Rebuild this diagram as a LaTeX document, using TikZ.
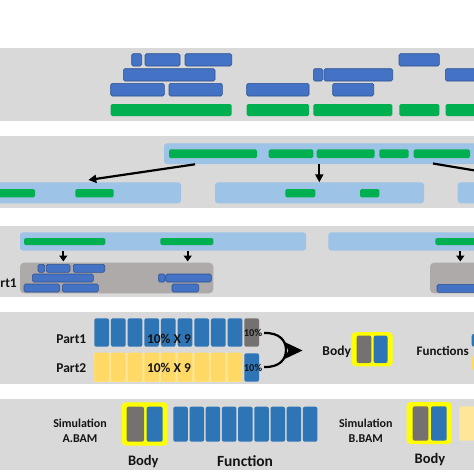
\documentclass[tikz,border=0pt]{standalone}
\usepackage{fontspec}
\setmainfont{Carlito}
\usetikzlibrary{arrows.meta}
\definecolor{panelgray}{HTML}{D9D9D9}
\definecolor{readblue}{HTML}{4472C4}
\definecolor{readborder}{HTML}{2F528F}
\definecolor{gbar}{HTML}{00B050}
\definecolor{lband}{HTML}{9DC3E6}
\definecolor{boxgray}{HTML}{AEAAAA}
\definecolor{sqblue}{HTML}{2E75B6}
\definecolor{sqgray}{HTML}{767171}
\definecolor{sqyellow}{HTML}{FFD966}
\definecolor{hiyellow}{HTML}{FFFF00}
\definecolor{paleyellow}{HTML}{FFE699}
\definecolor{txt}{HTML}{141414}
\newcommand\blk[4]{\draw[rd] (#1,#2) rectangle (#3,#4);}
\newcommand\gbr[4]{\fill[gn] (#1,#2) rectangle (#3,#4);}
\begin{document}
\begin{tikzpicture}[x=1pt,y=-1pt,
  panel/.style={fill=panelgray},
  rd/.style={fill=readblue,draw=readborder,line width=0.6pt,rounded corners=1.5pt},
  gn/.style={fill=gbar,rounded corners=1.5pt},
  band/.style={fill=lband,rounded corners=3pt},
  bigarrow/.style={line width=2.2pt,-{Triangle[length=8pt,width=8pt]}},
  smallarrow/.style={line width=2pt,-{Triangle[length=6pt,width=8pt]}},
  sq/.style={rounded corners=2pt},
  lbl/.style={font=\bfseries\fontsize{13.5}{15}\selectfont,text=txt,inner sep=0pt},
  pct/.style={font=\bfseries\fontsize{10.5}{12}\selectfont,text=txt,inner sep=0pt},
  sim/.style={font=\bfseries\fontsize{12}{15.5}\selectfont,text=txt,align=center,inner sep=0pt},
  hibox/.style={fill=hiyellow,rounded corners=4pt}]
\useasboundingbox (0,0) rectangle (474,474);
\clip (0,0) rectangle (474,474);
\fill[white] (0,0) rectangle (474,474);
% panels
\fill[panel] (0,48) rectangle (474,121);
\fill[panel] (0,136) rectangle (474,208);
\fill[panel] (0,226) rectangle (474,297);
\fill[panel] (0,312) rectangle (474,384);
\fill[panel] (0,399) rectangle (474,470);
% ---------- panel 1
\blk{131.7}{53.7}{141.7}{66}\blk{145}{53.7}{180}{66}\blk{185}{53.7}{231.7}{66}\blk{399}{53.7}{439.3}{66}
\blk{123.3}{68.7}{215}{81}\blk{313.3}{68.7}{322.7}{81}\blk{324}{68.7}{392.7}{81}\blk{445.3}{68.7}{480}{81}
\blk{110.7}{83.3}{164.3}{96}\blk{169}{83.3}{222.3}{96}\blk{246.7}{83.3}{309}{96}\blk{332.7}{83.3}{373.7}{96}
\gbr{110.7}{104}{231.7}{116}\gbr{246.7}{104}{309}{116}\gbr{313.3}{104}{392.3}{116}\gbr{399.3}{104}{439.3}{116}\gbr{445.7}{104}{480}{116}
% ---------- panel 2
\fill[band] (164,143.3) rectangle (480,164);
\gbr{169}{149.3}{257}{158}\gbr{268.7}{149.3}{313.3}{158}\gbr{316.7}{149.3}{374.7}{158}\gbr{379.3}{149.3}{408.7}{158}\gbr{413.7}{149.3}{470}{158}
\fill[band] (-6,182.3) rectangle (181,203.3);
\fill[band] (215,182.3) rectangle (424,203.3);
\fill[band] (457.7,182.3) rectangle (480,203.3);
\gbr{-6}{189}{35}{197.3}\gbr{75.3}{189}{113.7}{197.3}\gbr{285.3}{189}{315.3}{197.3}\gbr{360}{189}{379.3}{197.3}
\coordinate (a1s) at (195,164.3); \coordinate (a1e) at (88.3,180);
\coordinate (a2s) at (319.3,164.3); \coordinate (a2e) at (319.3,182.3);
\coordinate (a3s) at (433,163.5); \coordinate (a3e) at (490,173);
\draw[bigarrow] (a1s) -- (a1e);
\draw[bigarrow] (a2s) -- (a2e);
\draw[line width=2.2pt] (a3s) -- (a3e);
% ---------- panel 3
\fill[band] (20,232.3) rectangle (306,250.7);
\fill[band] (328.3,232.3) rectangle (480,250.7);
\gbr{24}{238}{105.3}{245}\gbr{160.3}{238}{213.3}{245}\gbr{435.3}{238}{480}{245}
\fill[boxgray,rounded corners=4pt] (20,262.7) rectangle (213.3,293.3);
\fill[boxgray,rounded corners=4pt] (430,262.7) rectangle (490,293.3);
\blk{38}{264.3}{44.7}{272.3}\blk{46.3}{264.3}{70}{272.3}\blk{73.3}{264.3}{104.7}{272.3}
\blk{32.3}{274}{93.3}{282}\blk{158.3}{274}{165}{282}\blk{165.7}{274}{211.3}{282}
\blk{24}{284}{59.7}{292}\blk{62.3}{284}{98.3}{292}\blk{172}{284}{198.7}{292}\blk{437}{284.3}{480}{292.3}
\foreach \x [count=\i] in {63.3,187.7,460.3}{
  \coordinate (d\i s) at (\x,251.3); \coordinate (d\i e) at (\x,261.5);
  \draw[smallarrow] (d\i s) -- (d\i e);}
\node[lbl,anchor=east] (p3part) at (17,283) {Part1};
% ---------- panel 4
\node[lbl,anchor=east] (p4a) at (86.5,339.3) {Part1};
\node[lbl,anchor=east] (p4b) at (86.5,368.3) {Part2};
\fill[paleyellow] (94.3,352.7) rectangle (242,381.7);
\foreach \k in {0,...,8}{
  \fill[sqblue,sq] ({94.3+16.67*\k},318.3) rectangle ++(14.7,28.4);
  \fill[sqyellow,sq] ({94.3+16.67*\k},352.7) rectangle ++(14.7,29);}
\fill[sqgray,sq] (244.3,318.3) rectangle (259,346.7);
\fill[sqblue,sq] (244.3,353.3) rectangle (259,381.7);
\node[lbl] (t9a) at (169,338.5) {10\% X 9};
\node[lbl] (t9b) at (169,367.5) {10\% X 9};
\node[pct] (pa) at (253,333) {10\%};
\node[pct] (pb) at (253,367.5) {10\%};
\coordinate (cj) at (286,350);
\draw[line width=2.2pt] (264,333) .. controls (280,332.5) and (286,341) .. (cj);
\draw[line width=2.2pt] (264,367) .. controls (280,367.5) and (286,359) .. (cj);
\fill[black] (283.5,341.5) -- (302.5,350.5) -- (283.5,359.5) -- (288.5,350.5) -- cycle;
\node[lbl] (body4) at (336.7,351.5) {Body};
\fill[hibox] (351.7,332) rectangle (392.7,366.3);
\fill[sqgray,sq] (356.7,335.5) rectangle (371.3,363);
\fill[sqblue,sq] (373.7,335.5) rectangle (387.5,363);
\node[lbl,font=\bfseries\fontsize{13}{15}\selectfont] (func4) at (442.8,350.5) {Functions};
\fill[sqblue,sq] (471.7,334) rectangle (485,346.5);
\fill[sqyellow,sq] (471.7,356) rectangle (485,370);
% ---------- panel 5
\node[sim] (simA) at (80,431) {Simulation\\A.BAM};
\fill[hibox] (121.7,402.3) rectangle (167.7,445.7);
\fill[sqgray,sq] (126.7,406.7) rectangle (144,441.7);
\fill[sqblue,sq] (146.7,406.7) rectangle (162.7,441.7);
\foreach \k in {0,...,8}{
  \fill[sqblue,sq] ({173.3+16.2*\k},406.7) rectangle ++(14.5,35);}
\node[lbl,font=\bfseries\fontsize{14.5}{16}\selectfont] (bodyA) at (143.3,461.5) {Body};
\node[lbl,font=\bfseries\fontsize{15.5}{17}\selectfont] (funcA) at (245,461.5) {Function};
\node[sim] (simB) at (365.8,431) {Simulation\\B.BAM};
\fill[hibox] (406.7,402) rectangle (451.7,444);
\fill[sqgray,sq] (412.7,406.3) rectangle (428.3,440.7);
\fill[sqblue,sq] (431,406.3) rectangle (446.7,440.7);
\fill[paleyellow,sq] (459.3,406.3) rectangle (485,440.7);
\node[lbl,font=\bfseries\fontsize{14.5}{16}\selectfont] (bodyB) at (430,459.7) {Body};
\end{tikzpicture}
\end{document}
